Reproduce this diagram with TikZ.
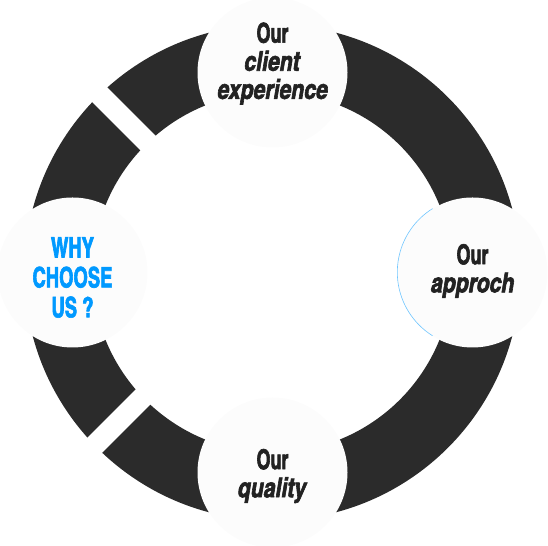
\documentclass[tikz,border=0pt]{standalone}
\usepackage{fontspec}
\newfontfamily\impactfont{texgyreheroscn}[Extension=.otf, UprightFont=*-bold, ItalicFont=*-bolditalic,
  UprightFeatures={FakeStretch=0.8, FakeBold=2.2}, ItalicFeatures={FakeStretch=0.95, FakeBold=2.2}]
\definecolor{ringgray}{RGB}{43,43,43}
\definecolor{bubblewhite}{RGB}{252,252,252}
\definecolor{inkgray}{RGB}{34,34,34}
\definecolor{whyblue}{RGB}{0,153,255}

\begin{document}
\begin{tikzpicture}[font=\impactfont,
  bubble/.style={circle, fill=bubblewhite, minimum size=3cm, inner sep=0pt},
  bubbletext/.style={text=inkgray, align=center, font=\impactfont\fontsize{15.5}{16}\selectfont}]
% ---- canvas ----
\useasboundingbox (0,0) rectangle (10.96,10.92);
\coordinate (hub) at (5.45,5.47);

% ---- dark ring ----
\fill[ringgray, even odd rule] (hub) circle (4.96) (hub) circle (3.6);

% ---- two white cuts on the left side ----
\coordinate (cut) at ([yshift=0.1cm]hub);
\draw[white, line width=0.42cm] (cut) ++(135:3.4) -- ++(135:1.8);
\draw[white, line width=0.42cm] (cut) ++(225:3.4) -- ++(225:1.8);

% ---- bubbles on the ring ----
\node[bubble] (client) at ([shift={(90:4)}]hub) {};
\node[bubble] (approach) at ([shift={(0:4)}]hub) {};
\node[bubble] (quality) at ([shift={(270:4)}]hub) {};
\node[bubble] (why) at ([shift={(180:4)}]hub) {};

% thin blue rim on the right bubble
\draw[whyblue!55, line width=0.35pt] (approach.122) arc (122:238:1.5);

% ---- labels ----
\node[bubbletext] (clientText) at ([yshift=0.18cm]client) {Our\\\textit{client}\\\textit{experience}};
\node[bubbletext] (approachText) at ([yshift=0.03cm]approach) {Our\\\textit{approch}};
\node[bubbletext] (qualityText) at ([yshift=-0.07cm]quality) {Our\\\textit{quality}};
\node[bubbletext, text=whyblue, font=\impactfont\fontsize{16}{17}\selectfont]
  (whyText) at ([yshift=-0.1cm]why) {WHY\\CHOOSE\\US ?};
\end{tikzpicture}
\end{document}
